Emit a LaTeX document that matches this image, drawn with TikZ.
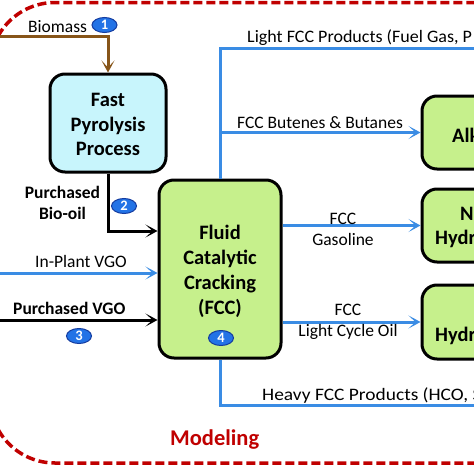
\documentclass[tikz,border=0pt]{standalone}
\usepackage{fontspec}
\usepackage{graphicx}
\setmainfont{Carlito}
\usetikzlibrary{arrows.meta,shapes.geometric}
\definecolor{flowblue}{RGB}{58,140,228}
\definecolor{flowbrown}{RGB}{135,85,25}
\definecolor{boxgreen}{RGB}{198,240,140}
\definecolor{boxcyan}{RGB}{200,245,252}
\definecolor{modelred}{RGB}{192,0,0}
\definecolor{badgeblue}{RGB}{35,115,230}
\definecolor{badgeedge}{RGB}{20,60,160}
\begin{document}
\begin{tikzpicture}[x=1pt,y=-1pt,
  procbox/.style={draw=black,line width=3pt,rounded corners=15pt,inner sep=0pt},
  boxtext/.style={font=\fontsize{20.5}{24.8}\selectfont\bfseries,align=center,inner sep=0pt},
  lbl/.style={font=\fontsize{17.5}{21}\selectfont,inner sep=0pt},
  blbl/.style={font=\fontsize{17.5}{21}\selectfont\bfseries,inner sep=0pt},
  tip/.style={-{Stealth[length=12pt,width=13pt,inset=7pt]}},
  blueflow/.style={draw=flowblue,line width=3pt},
  blackflow/.style={draw=black,line width=3pt},
  brownflow/.style={draw=flowbrown,line width=3pt},
  badge/.style={ellipse,fill=badgeblue,draw=badgeedge,line width=1pt,
     minimum width=25pt,minimum height=15pt,inner sep=0pt,text=white,
     font=\fontsize{14.5}{15}\selectfont\bfseries},
  modelframe/.style={draw=modelred,line width=3.5pt,dash pattern=on 9pt off 4pt,rounded corners=65pt}
]
\useasboundingbox (0,0) rectangle (474,474);
\clip (0,0) rectangle (474,474);
\fill[white] (0,0) rectangle (474,474);

% modeling frame
\draw[modelframe] (-10,2.5) rectangle (620,463);
\node[font=\fontsize{22.5}{26}\selectfont\bfseries,text=modelred,inner sep=0pt,anchor=base west] (modeling) at (170,445) {Modeling};

% process boxes
\node[procbox,fill=boxcyan,minimum width=116pt,minimum height=98pt] (fp) at (108,123) {};
\node[boxtext] (fptext) at (108,124.5) {Fast\\Pyrolysis\\Process};

\node[procbox,fill=boxgreen,minimum width=122pt,minimum height=178pt] (fcc) at (220,269) {};
\node[boxtext] (fcctext) at (220,271.5) {Fluid\\Catalytic\\Cracking\\(FCC)};
\node[badge] (b4) at (221,338) {4};

\node[procbox,fill=boxgreen,minimum width=136pt,minimum height=73pt] (alk) at (490,132.5) {};
\node[boxtext,anchor=base west] (alktext) at (452,142) {Alk};
\node[procbox,fill=boxgreen,minimum width=136pt,minimum height=73pt] (nht) at (490,225.5) {};
\node[boxtext,anchor=base west] (nhttext1) at (460,220) {N};
\node[boxtext,anchor=base west] (nhttext2) at (435,244.5) {Hydr};
\node[procbox,fill=boxgreen,minimum width=136pt,minimum height=74pt] (hc) at (490,322) {};
\node[boxtext,anchor=base west] (hctext) at (435,341) {Hydr};

% free ends
\coordinate (bmin) at (-2,36);
\coordinate (biooil) at (108,231);
\coordinate (ipvgo) at (-2,273);
\coordinate (pvgo) at (-2,320);
\coordinate (lightend) at (480,48);
\coordinate (heavyend) at (480,405);
\coordinate (butstart) at (fcc.north |- alk.west);

% connectors
\draw[brownflow,tip] (bmin) -| (fp.north);
\draw[blackflow,tip] (fp.south) |- (biooil -| fcc.west);
\draw[blueflow,tip] (ipvgo) -- (ipvgo -| fcc.west);
\draw[blackflow,tip] (pvgo) -- (pvgo -| fcc.west);
\draw[blueflow] (fcc.north) |- (lightend);
\draw[blueflow,tip] (butstart) -- (alk.west);
\draw[blueflow,tip] (fcc.east |- nht.west) -- (nht.west);
\draw[blueflow,tip] (fcc.east |- hc.west) -- (hc.west);
\draw[blueflow] (fcc.south) |- (heavyend);

% labels
\node[lbl,anchor=base west] (biomass) at (28,32) {Biomass};
\node[badge] (b1) at (104.5,25) {1};
\node[blbl,align=center] (pbio) at (62.5,202.5) {Purchased\\Bio-oil};
\node[badge] (b2) at (124,206) {2};
\node[lbl,anchor=base west] (ipl) at (35,267) {In-Plant VGO};
\node[blbl,anchor=base west] (pvl) at (13,314) {Purchased VGO};
\node[badge] (b3) at (79,336) {3};
\node[lbl,anchor=base west] (light) at (247,42) {\scalebox{1.03}[1]{Light FCC Products (Fuel Gas, P}};
\node[lbl,anchor=base west] (but) at (237,128) {FCC Butenes \& Butanes};
\node[lbl,align=center] (gas) at (343,229) {FCC\\Gasoline};
\node[lbl,align=center] (lco) at (348,322) {FCC\\Light Cycle Oil};
\node[lbl,anchor=base west] (heavy) at (262,400) {\scalebox{1.11}[1]{Heavy FCC Products (HCO, Sl}};
\end{tikzpicture}
\end{document}
